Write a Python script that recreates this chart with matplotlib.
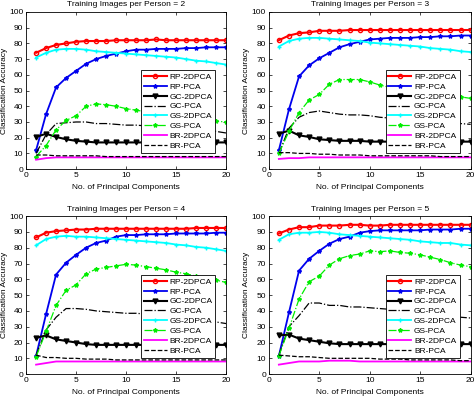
import numpy as np
import matplotlib
matplotlib.use('Agg')
import matplotlib.pyplot as plt

plt.rcParams['font.family'] = ['Liberation Sans', 'DejaVu Sans']
plt.rcParams['font.size'] = 6

x = np.arange(1, 21)
methods = ['RP-2DPCA', 'RP-PCA', 'GC-2DPCA', 'GC-PCA', 'GS-2DPCA', 'GS-PCA', 'BR-2DPCA', 'BR-PCA']
n_train = [2, 3, 4, 5]

# accuracy (%) per method, one list per panel (training images per person)
rp_2dpca = [
    [74, 77, 79, 80, 81, 81.5, 81.5, 81.5, 82, 82, 82, 82, 82.5, 82, 82, 82, 82, 82, 82, 82],
    [82, 85, 86.5, 87, 88, 88, 88, 88.5, 88.5, 88.5, 88.5, 88.5, 88.5, 88.5, 88.5, 88.5, 88.5, 88.5, 88.5, 88.5],
    [86.5, 89.5, 90.5, 91, 91.5, 91.5, 92, 92, 92, 92, 92, 92, 92, 92, 92, 92, 92.5, 92.5, 92.5, 92.5],
    [89, 91.5, 93, 93, 94, 94, 94, 94.5, 94.5, 94, 94, 94.5, 94.5, 94.5, 94.5, 94.5, 94.5, 94.5, 94.5, 94.5],
]
rp_pca = [
    [12, 35, 52, 58, 62.5, 67, 70, 72, 73.5, 75, 76, 76, 76.5, 76.5, 76.5, 77, 77, 77.5, 77.5, 77.5],
    [12, 38, 59, 66, 70.5, 74, 77.5, 79.5, 81, 82.5, 83, 83.5, 83.5, 83.5, 84, 84, 84.5, 84.5, 85, 85],
    [11.5, 38, 63, 70.5, 75.5, 80, 83, 84.5, 87, 88, 88, 88.5, 88.5, 88.5, 89, 89, 89, 89, 89.5, 89.5],
    [11.5, 39, 65.5, 73, 78, 82.5, 85.5, 87, 89.5, 90.5, 91, 91, 91, 91, 91, 91.5, 91.5, 91.5, 92, 92],
]
gc_2dpca = [
    [20.5, 22.5, 20.5, 19, 18, 17.5, 17, 17, 17, 17, 17, 17, 17, 17, 17, 17, 17, 17, 17, 17],
    [22.5, 24.5, 21.5, 20.5, 19, 18.5, 18, 18, 18, 17.5, 17.5, 17.5, 17.5, 17.5, 17.5, 17.5, 17.5, 17.5, 17.5, 17.5],
    [23, 24.5, 22, 21, 20, 19, 18.5, 18.5, 18.5, 18.5, 18.5, 18.5, 18.5, 18.5, 18.5, 18.5, 18.5, 18.5, 18.5, 18.5],
    [24.5, 25, 22.5, 21.5, 20.5, 19.5, 19, 19, 19, 19, 19, 19, 19, 19, 19, 19, 19, 19, 19, 19],
]
gc_pca = [
    [10, 22, 29, 29.5, 30, 30, 29, 29, 28.5, 28, 28, 27.5, 27, 26.5, 26, 25.5, 25, 24.5, 24, 23],
    [10, 26, 33, 36, 37, 36, 35, 34.5, 34.5, 34, 33, 32.5, 32, 31.5, 31, 30.5, 30, 29.5, 29, 28.5],
    [12, 28, 36, 41.5, 41.5, 41, 40, 39.5, 39, 38.5, 38.5, 38, 37.5, 37, 36, 35.5, 34.5, 34, 33, 32],
    [12, 30, 37, 45, 45, 43.5, 43.5, 42.5, 42.5, 42, 41.5, 41, 40.5, 40, 39.5, 38.5, 38, 37, 36, 35.5],
]
gs_2dpca = [
    [71, 74, 76, 76.5, 76.5, 76, 75, 74.5, 74, 73.5, 73, 72.5, 72, 71.5, 71, 70, 69, 68.5, 67.5, 66.5],
    [78, 81.5, 83, 83.5, 83.5, 83, 82.5, 82, 81.5, 80.5, 80, 79.5, 79, 78.5, 78, 77, 76.5, 76, 75, 74.5],
    [81.5, 85.5, 87, 87.5, 87, 87, 86.5, 86, 85.5, 85, 84.5, 84, 83.5, 83, 82, 81.5, 80.5, 80, 79, 78],
    [85, 88.5, 89.5, 89.5, 90, 89.5, 88.5, 88, 87.5, 87, 86.5, 86, 85.5, 85, 84, 83.5, 83, 83, 82, 81.5],
]
gs_pca = [
    [8, 15, 25, 31, 34, 40, 41.5, 41, 40, 38.5, 37.5, 36.5, 35.5, 34, 33, 32, 31.5, 31, 30.5, 30],
    [10, 24, 36, 44, 47.5, 54, 57, 57, 57, 55.5, 53.5, 52, 51, 50, 49, 48, 47.5, 47, 46, 45],
    [11, 27, 43.5, 53, 56.5, 63.5, 66.5, 67.5, 68.5, 69.5, 69, 68, 67, 66, 64.5, 63.5, 62, 61, 59.5, 58],
    [11.5, 29, 47.5, 58.5, 62, 69, 73, 75, 76, 78, 77.5, 78, 77, 76.5, 75.5, 74, 72.5, 70.5, 69, 68],
]
br_2dpca = [
    [6, 7, 7.5, 7.5, 7.5, 7.5, 7.5, 7.5, 7.5, 7.5, 7.5, 7.5, 7.5, 7.5, 7.5, 7.5, 7.5, 7.5, 7.5, 7.5],
    [6.5, 7, 7, 7.5, 7.5, 7.5, 7.5, 7.5, 7.5, 7.5, 7.5, 7.5, 7.5, 7.5, 7.5, 7.5, 7.5, 7.5, 7.5, 7.5],
    [6, 7, 8, 8, 8, 8, 8, 8, 8, 8, 8, 8, 8, 8, 8, 8, 8, 8, 8, 8],
    [6, 7, 8, 8, 8, 8.5, 8.5, 8.5, 8, 8, 8, 8, 8, 8, 8, 8, 8, 8, 8, 8],
]
br_pca = [
    [9, 9, 8.5, 8.5, 8.5, 8.5, 8.5, 8, 8, 8, 8, 8, 8, 8, 8, 8, 8, 8, 8, 8],
    [10.5, 10.5, 10, 10, 9.5, 9.5, 9, 9, 9, 8.5, 8.5, 8.5, 8.5, 8.5, 8.5, 8.5, 8, 8, 8, 8],
    [12, 10.5, 10.5, 10, 10, 9.5, 9.5, 9.5, 9, 9, 9, 9, 9, 9, 9, 9, 9, 9, 9, 9],
    [12, 11.5, 11, 11, 10.5, 10, 10, 10, 10, 10, 9.5, 9.5, 9.5, 9, 9, 9, 9, 9, 8.5, 8.5],
]

series = [rp_2dpca, rp_pca, gc_2dpca, gc_pca, gs_2dpca, gs_pca, br_2dpca, br_pca]
styles = [
    dict(color='#ff0000', lw=1.5, marker='o', ms=3, mfc='none', mew=1.0),
    dict(color='#0000ee', lw=1.3, marker='*', ms=3),
    dict(color='black', lw=1.5, marker='v', ms=3.5),
    dict(color='black', lw=0.9, ls='-.'),
    dict(color='#00ffff', lw=1.3, marker='+', ms=2.5),
    dict(color='#00ee00', lw=0.9, ls='-.', marker='*', ms=3),
    dict(color='#ff00ff', lw=1.3),
    dict(color='black', lw=0.9, ls='--'),
]

fig = plt.figure(figsize=(4.74, 3.98), dpi=100)
positions = [
    [0.055, 0.575, 0.422, 0.395],
    [0.567, 0.575, 0.426, 0.395],
    [0.055, 0.060, 0.422, 0.397],
    [0.567, 0.060, 0.426, 0.397],
]

for k in range(4):
    ax = fig.add_axes(positions[k])
    for name, data, st in zip(methods, series, styles):
        ax.plot(x, data[k], label=name, **st)
    ax.set_xlim(0, 20)
    ax.set_ylim(0, 100)
    ax.set_xticks([0, 5, 10, 15, 20])
    ax.set_yticks(np.arange(0, 101, 10))
    ax.tick_params(direction='in', top=True, right=True, length=2.5, width=0.5, pad=2, labelsize=6)
    for s in ax.spines.values():
        s.set_linewidth(0.6)
    ax.set_title('Training Images per Person = %d' % n_train[k], fontsize=6, pad=4)
    ax.set_xlabel('No. of Principal Components', fontsize=6, labelpad=4)
    ax.set_ylabel('Classification Accuracy', fontsize=6, labelpad=1)
    leg = ax.legend(loc='lower right', bbox_to_anchor=(0.945, 0.105), fontsize=6,
                    fancybox=False, framealpha=1, edgecolor='black',
                    borderpad=0.3, labelspacing=0.25, handlelength=2.8,
                    handletextpad=0.3, borderaxespad=0)
    leg.get_frame().set_linewidth(0.6)

plt.savefig('out.png', dpi=100)
